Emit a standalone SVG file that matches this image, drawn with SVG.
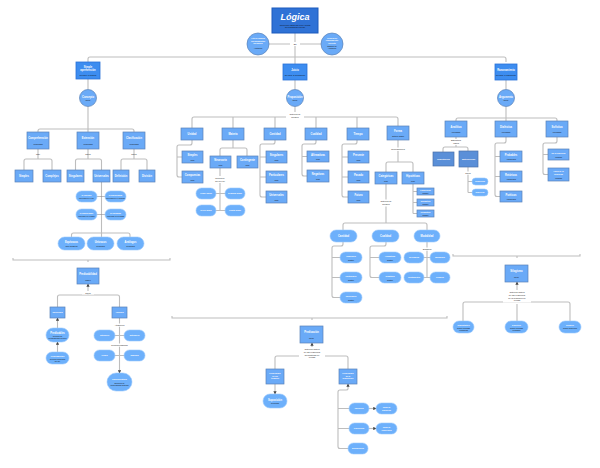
<svg xmlns="http://www.w3.org/2000/svg" width="600" height="468" viewBox="0 0 600 468">
<defs>
<marker id="ar" viewBox="0 0 6 6" refX="5" refY="3" markerWidth="3" markerHeight="3" orient="auto-start-reverse"><path d="M0 0 L6 3 L0 6 z" fill="#444"/></marker>
<style>
.b0{fill:#2f72d6;stroke:#1d5bbd;stroke-width:1}
.b1{fill:#3d8df0;stroke:#2a72d8;stroke-width:.8}
.b2{fill:#6aaaf7;stroke:#5a82b8;stroke-width:.7}
.b3{fill:#5a8fd8;stroke:#4a6fa8;stroke-width:.7}
.ci{fill:#6aaaf7;stroke:#5a82b8;stroke-width:.7}
.p{fill:#6db0fb;stroke:#9ccafc;stroke-width:.6}
.c{fill:none;stroke:#bdbdbd;stroke-width:1.1}
.k{fill:none;stroke:#bdbdbd;stroke-width:1.1}
text{font-family:"Liberation Sans",Arial,sans-serif;text-anchor:middle}
.t{font-size:2.6px;font-weight:bold;fill:#fff}
.s{font-size:2px;fill:#111}
.l{font-size:2.2px;fill:#222}
.x{font-size:1.8px;fill:#111}
.tt{font-size:1.9px;font-weight:bold;fill:#fff}
.lb{fill:#fff}
</style>
</defs>

<g id="connectors">
<path class="c" d="M295 33 V64"/>
<path class="c" d="M269 44 H321"/>
<path class="c" d="M88 62 V59 Q88 57 90 57 H504 Q506 57 506 59 V62"/>
<!-- left branch -->
<path class="c" d="M88 79 V89.5 M88 106.5 V129"/>
<path class="c" d="M38 132 V131 Q38 129 40 129 H132 Q134 129 134 131 V132 M88 129 V132"/>
<path class="c" d="M38 149 V159 M24 170 V161 Q24 159 26 159 H50 Q52 159 52 161 V170"/>
<path class="c" d="M88 149 V159 M75.5 170 V161 Q75.5 159 77.5 159 H99.5 Q101.5 159 101.5 161 V170"/>
<path class="c" d="M134 149 V159 M121 170 V161 Q121 159 123 159 H145 Q147 159 147 161 V170"/>
<path class="c" d="M101.5 182 V237 M71.5 237 V235 Q71.5 233 73.5 233 H128 Q130 233 130 235 V237"/>
<path class="c" d="M97 196.5 H105 M97 214.5 H105"/>
<path class="k" d="M13 258 V260 H170 V258 M88 260 V262"/>
<path class="c" d="M88 295 V284" marker-end="url(#ar)"/>
<path class="c" d="M57.5 307 V297 Q57.5 295 59.5 295 H117.5 Q119.5 295 119.5 297 V307"/>
<path class="c" d="M57.5 328 V318" marker-end="url(#ar)"/>
<path class="c" d="M57.5 352 V342" marker-end="url(#ar)"/>
<path class="c" d="M119.5 318 V373" marker-end="url(#ar)"/>
<path class="c" d="M115 335.5 H124 M115 355.5 H124"/>
<!-- middle branch -->
<path class="c" d="M295 80 V89.5 M295 106.5 V117"/>
<path class="c" d="M192 128 V119 Q192 117 194 117 H396 Q398 117 398 119 V126 M233 117 V128 M275 117 V128 M316 117 V128 M357 117 V128"/>
<path class="c" d="M192 140 V143 Q192 145 190 145 H179 Q177 145 177 147 V175 Q177 177 179 177 H182 M177 157 H182"/>
<path class="c" d="M233 140 V148 M220 156 V150 Q220 148 222 148 H245 Q247 148 247 150 V156"/>
<path class="c" d="M220 168 V210.5 M216 193.5 H225 M216 210.5 H225"/>
<path class="c" d="M275 140 V142 Q275 144 273 144 H262 Q260 144 260 146 V195 Q260 197 262 197 H266 M260 157 H266 M260 177 H266"/>
<path class="c" d="M316 140 V142 Q316 144 314 144 H304 Q302 144 302 146 V174 Q302 176 304 176 H307 M302 156.5 H307"/>
<path class="c" d="M357 140 V142 Q357 144 355 144 H344 Q342 144 342 146 V195 Q342 197 344 197 H348 M342 157 H348 M342 177 H348"/>
<path class="c" d="M398 140 V162 M386 172 V164 Q386 162 388 162 H411 Q413 162 413 164 V172"/>
<path class="c" d="M386 184 V223 M343 230 V225 Q343 223 345 223 H425 Q427 223 427 225 V230"/>
<path class="c" d="M413 184 V213.5 M413 191.5 H417 M413 202.5 H417 M413 213.5 H417"/>
<path class="c" d="M343 242 V244 Q343 246 341 246 H334 Q332 246 332 248 V295.5 Q332 297.5 334 297.5 H340 M332 257.5 H340 M332 277.5 H340"/>
<path class="c" d="M386 242 V244 Q386 246 384 246 H372 Q370 246 370 248 V275.5 Q370 277.5 372 277.5 H379 M370 257.5 H379"/>
<path class="c" d="M427 242 V277.5 M424 257.5 H430 M424 277.5 H430"/>
<!-- right branch -->
<path class="c" d="M506 80 V89.5 M506 106.5 V121"/>
<path class="c" d="M456 121 V120 Q456 118 458 118 H555 Q557 118 557 120 V121"/>
<path class="c" d="M456 137 V147 M443 152 V149 Q443 147 445 147 H466 Q468 147 468 149 V151"/>
<path class="c" d="M468 167 V192.5 M468 181.5 H472 M468 192.5 H472"/>
<path class="c" d="M506 137 V141 Q506 143 504 143 H497 Q495 143 495 145 V194.5 Q495 196.5 497 196.5 H500 M495 156.5 H500 M495 176.5 H500"/>
<path class="c" d="M557 137 V141 Q557 143 555 143 H545 Q543 143 543 145 V172.5 Q543 174.5 545 174.5 H548 M543 154.5 H548"/>
<path class="k" d="M453 254 V256 H580 V254 M517 256 V258"/>
<path class="c" d="M517 290 V282" marker-end="url(#ar)"/>
<path class="c" d="M463 321 V304 Q463 302 465 302 H568 Q570 302 570 304 V321 M517 304 V321"/>
<!-- bottom middle -->
<path class="k" d="M172 316 V318 H447 V316 M312 318 V320"/>
<path class="c" d="M312 347 V343" marker-end="url(#ar)"/>
<path class="c" d="M275 369 V358 Q275 356 277 356 H346 Q348 356 348 358 V369"/>
<path class="c" d="M275 384 V394" marker-end="url(#ar)"/>
<path class="c" d="M348 389 V384" marker-end="url(#ar)"/>
<path class="c" d="M348 389 Q348 390 346 390 H340 Q338 390 338 392 V446.5 Q338 448.5 340 448.5 H348 M338 408.5 H349 M338 428.5 H349"/>
<path class="c" d="M369 408.5 H376" marker-end="url(#ar)"/>
<path class="c" d="M369 428.5 H376" marker-end="url(#ar)"/>
</g>

<!-- labels on connectors -->
<g id="labels">
<rect class="lb" x="290" y="42" width="10" height="4"/><text class="l" x="295" y="45">Es</text>
<text class="l" x="38" y="155">Tipo</text><text class="l" x="88" y="155">Tipos</text><text class="l" x="134" y="155">Tipos</text>
<text class="x" x="101.5" y="197">y</text><text class="x" x="101.5" y="215">y</text>
<rect class="lb" x="82" y="291" width="12" height="3.5"/><text class="l" x="88" y="293.8">Tipos</text>
<rect class="lb" x="111" y="323.5" width="17" height="3.2"/><text class="l" x="119.5" y="326">Atribución</text>
<rect class="lb" x="108" y="343.5" width="23" height="3.2"/><text class="l" x="119.5" y="346">Proporcionalidad</text>
<rect class="lb" x="286" y="112" width="18" height="7"/><text class="l" x="295" y="114.5">Criterios de</text><text class="l" x="295" y="117.6">división</text>
<rect class="lb" x="211" y="176" width="18" height="7"/><text class="l" x="220" y="178.5">Modos de</text><text class="l" x="220" y="181.5">ser per se</text>
<rect class="lb" x="388" y="147.5" width="20" height="3.4"/><text class="l" x="398" y="150">Proposiciones</text>
<rect class="lb" x="377" y="199.5" width="18" height="7"/><text class="l" x="386" y="202">Criterios de</text><text class="l" x="386" y="205">división</text>
<rect class="lb" x="420" y="247.5" width="14" height="3.2"/><text class="l" x="427" y="250">Subtipos</text>
<rect class="lb" x="447" y="139" width="18" height="6"/><text class="l" x="456" y="141.3">Estructura</text><text class="l" x="456" y="144">lógica</text>
<rect class="lb" x="462" y="171.5" width="12" height="3.2"/><text class="l" x="468" y="174">Tipos</text>
<rect class="lb" x="503" y="290.5" width="28" height="12"/><text class="l" x="517" y="293">Criterios límites</text><text class="l" x="517" y="295.8">de las relaciones</text><text class="l" x="517" y="298.6">de la definición de</text><text class="l" x="517" y="301.4">verdad</text>
<rect class="lb" x="299" y="347.5" width="26" height="12"/><text class="l" x="312" y="350">Criterios límites</text><text class="l" x="312" y="352.8">de las relaciones</text><text class="l" x="312" y="355.6">predicativas de</text><text class="l" x="312" y="358.4">verdad</text>
</g>

<g id="n-logica"><rect class="b0" x="272" y="8" width="46" height="25"/><text x="295" y="20" style="font-size:9px;font-weight:bold;font-style:italic;fill:#fff">Lógica</text><text class="x" x="295" y="25.5">Ciencia que estudia las leyes y formas</text><text class="x" x="295" y="28.3">del pensamiento correcto</text></g>
<g id="n-arte"><circle class="ci" cx="258" cy="44" r="11"/><text class="tt" x="258" y="39">Arte de razonar</text><text class="tt" x="258" y="41.6">los argumentos</text><text class="tt" x="258" y="44.2">racionales</text><text class="x" x="258" y="49">Aristóteles</text></g>
<g id="n-ciencia"><circle class="ci" cx="332" cy="44" r="11"/><text class="tt" x="332" y="38.5">Ciencia del</text><text class="tt" x="332" y="41">razonamiento</text><text class="tt" x="332" y="43.5">correcto</text><text class="x" x="332" y="47">Órganon de</text><text class="x" x="332" y="49.3">Aristóteles</text></g>

<g id="n-aprehension"><rect class="b1" x="76" y="62" width="24" height="17"/><text class="t" x="88" y="68">Simple</text><text class="t" x="88" y="71">aprehensión</text><text class="s" x="88" y="76">Su obra: el término</text></g>
<g id="n-concepto"><circle class="ci" cx="88" cy="98" r="8.5"/><text class="t" x="88" y="97.5">Concepto</text><text class="s" x="88" y="101">Tiene</text></g>
<g id="n-comprehension"><rect class="b2" x="27" y="132" width="22" height="17"/><text class="t" x="38" y="139">Comprehensión</text><text class="s" x="38" y="144.5">Propiedad</text></g>
<g id="n-extension"><rect class="b2" x="77" y="132" width="22" height="17"/><text class="t" x="88" y="139">Extensión</text><text class="s" x="88" y="144.5">Propiedad</text></g>
<g id="n-clasificacion"><rect class="b2" x="123" y="132" width="22" height="17"/><text class="t" x="134" y="139">Clasificación</text><text class="s" x="134" y="144.5">Propiedad</text></g>
<g id="n-simples"><rect class="b2" x="15" y="170" width="18" height="12"/><text class="t" x="24" y="177">Simples</text></g>
<g id="n-complejos"><rect class="b2" x="43" y="170" width="18" height="12"/><text class="t" x="52" y="177">Complejos</text></g>
<g id="n-singulares"><rect class="b2" x="67" y="170" width="17" height="12"/><text class="t" x="75.5" y="177">Singulares</text></g>
<g id="n-universales"><rect class="b2" x="93" y="170" width="17" height="12"/><text class="t" x="101.5" y="177">Universales</text></g>
<g id="n-definicion"><rect class="b2" x="113" y="170" width="16" height="12"/><text class="t" x="121" y="177">Definición</text></g>
<g id="n-division"><rect class="b2" x="139" y="170" width="16" height="12"/><text class="t" x="147" y="177">División</text></g>
<g id="n-essendo"><rect class="p" x="76" y="191" width="21" height="11" rx="5.5"/><text class="tt" x="86.5" y="195.5">In essendo</text><text class="x" x="86.5" y="199.3">Universal en el ser</text></g>
<g id="n-praedicando"><rect class="p" x="105" y="191" width="21" height="11" rx="5.5"/><text class="tt" x="115.5" y="195.5">In praedicando</text><text class="x" x="115.5" y="199.3">Universal en el predicar</text></g>
<g id="n-significando"><rect class="p" x="76" y="209" width="21" height="11" rx="5.5"/><text class="tt" x="86.5" y="213.5">In significando</text><text class="x" x="86.5" y="217.3">Universal en el signo</text></g>
<g id="n-causando"><rect class="p" x="105" y="209" width="21" height="11" rx="5.5"/><text class="tt" x="115.5" y="213.5">In causando</text><text class="x" x="115.5" y="217.3">Universal en la causa</text></g>
<g id="n-equivocos"><rect class="p" x="58" y="237" width="27" height="13" rx="6.5"/><text class="t" x="71.5" y="243">Equívocos</text><text class="s" x="71.5" y="247">Con nombres</text></g>
<g id="n-univocos"><rect class="p" x="87" y="237" width="27" height="13" rx="6.5"/><text class="t" x="100.5" y="243">Unívocos</text><text class="s" x="100.5" y="247">Términos</text></g>
<g id="n-analogos"><rect class="p" x="117" y="237" width="27" height="13" rx="6.5"/><text class="t" x="130.5" y="243">Análogos</text><text class="s" x="130.5" y="247">Términos</text></g>
<g id="n-predicabilidad"><rect class="b2" x="77" y="268" width="22" height="16"/><text class="t" x="88" y="275">Predicabilidad</text><text class="s" x="88" y="280.5">Posee</text></g>
<g id="n-univocidad"><rect class="b2" x="50" y="307" width="15" height="11"/><text class="tt" x="57.5" y="313.3">Univocidad</text></g>
<g id="n-analogia"><rect class="b2" x="112" y="307" width="15" height="11"/><text class="tt" x="119.5" y="313.3">Analogía</text></g>
<g id="n-predicables"><rect class="p" x="46" y="328" width="23" height="14" rx="7"/><text class="t" x="57.5" y="333.5">Predicables</text><text class="x" x="57.5" y="337">Géneros de</text><text class="x" x="57.5" y="339.3">predicabilidad unívoca</text></g>
<g id="n-predicamentos"><rect class="p" x="46" y="352" width="23" height="12" rx="6"/><text class="tt" x="57.5" y="356.5">Predicamentos</text><text class="x" x="57.5" y="359.5">Géneros supremos</text><text class="x" x="57.5" y="361.8">del ser</text></g>
<g id="n-intrinseca"><rect class="p" x="94" y="330" width="21" height="11" rx="5.5"/><text class="tt" x="104.5" y="336.2">Intrínseca</text></g>
<g id="n-extrinseca"><rect class="p" x="124" y="330" width="21" height="11" rx="5.5"/><text class="tt" x="134.5" y="336.2">Extrínseca</text></g>
<g id="n-propia"><rect class="p" x="94" y="350" width="21" height="11" rx="5.5"/><text class="tt" x="104.5" y="356.2">Propia</text></g>
<g id="n-impropia"><rect class="p" x="124" y="350" width="21" height="11" rx="5.5"/><text class="tt" x="134.5" y="356.2">Impropia</text></g>
<g id="n-trascendentales"><rect class="p" x="107" y="373" width="25" height="18" rx="9"/><text class="tt" x="119.5" y="380">Trascendentales</text><text class="x" x="119.5" y="383.5">Nociones de</text><text class="x" x="119.5" y="385.8">predicabilidad análoga</text></g>

<g id="n-juicio"><rect class="b1" x="283" y="64" width="24" height="16"/><text class="t" x="295" y="70.5">Juicio</text><text class="s" x="295" y="75.5">Su obra: la proposición</text></g>
<g id="n-proposicion"><circle class="ci" cx="295" cy="98" r="8.5"/><text class="t" x="295" y="97.5">Proposición</text><text class="s" x="295" y="101">Tiene</text></g>
<g id="n-unidad"><rect class="b2" x="181" y="128" width="22" height="12"/><text class="t" x="192" y="135">Unidad</text></g>
<g id="n-materia"><rect class="b2" x="222" y="128" width="22" height="12"/><text class="t" x="233" y="135">Materia</text></g>
<g id="n-cantidad"><rect class="b2" x="264" y="128" width="22" height="12"/><text class="t" x="275" y="135">Cantidad</text></g>
<g id="n-cualidad"><rect class="b2" x="305" y="128" width="22" height="12"/><text class="t" x="316" y="135">Cualidad</text></g>
<g id="n-tiempo"><rect class="b2" x="347" y="128" width="22" height="12"/><text class="t" x="358" y="135">Tiempo</text></g>
<g id="n-forma"><rect class="b2" x="387" y="126" width="22" height="14" /><text class="t" x="398" y="131.5">Forma</text><text class="s" x="398" y="136.5">Criterio lógico</text></g>
<g id="n-j-simples"><rect class="b2" x="182" y="151" width="21" height="12"/><text class="t" x="192.5" y="156">Simples</text><text class="s" x="192.5" y="160.5">Tipo</text></g>
<g id="n-j-compuestas"><rect class="b2" x="182" y="171" width="21" height="12"/><text class="t" x="192.5" y="176">Compuestas</text><text class="s" x="192.5" y="180.5">Tipo</text></g>
<g id="n-necesaria"><rect class="b2" x="210" y="156" width="21" height="12"/><text class="t" x="220.5" y="161">Necesaria</text><text class="s" x="220.5" y="165.5">Tipo</text></g>
<g id="n-contingente"><rect class="b2" x="237" y="156" width="21" height="12"/><text class="t" x="247.5" y="161">Contingente</text><text class="s" x="247.5" y="165.5">Tipo</text></g>
<g id="n-modo1"><rect class="p" x="196" y="188" width="20" height="11" rx="5.5"/><text class="tt" x="206" y="194.2">Primer modo</text></g>
<g id="n-modo2"><rect class="p" x="225" y="188" width="20" height="11" rx="5.5"/><text class="tt" x="235" y="194.2">Segundo modo</text></g>
<g id="n-modo3"><rect class="p" x="196" y="205" width="20" height="11" rx="5.5"/><text class="tt" x="206" y="211.2">Tercer modo</text></g>
<g id="n-modo4"><rect class="p" x="225" y="205" width="20" height="11" rx="5.5"/><text class="tt" x="235" y="211.2">Cuarto modo</text></g>
<g id="n-j-singulares"><rect class="b2" x="266" y="151" width="21" height="12"/><text class="t" x="276.5" y="156">Singulares</text><text class="s" x="276.5" y="160.5">Tipo</text></g>
<g id="n-j-particulares"><rect class="b2" x="266" y="171" width="21" height="12"/><text class="t" x="276.5" y="176">Particulares</text><text class="s" x="276.5" y="180.5">Tipo</text></g>
<g id="n-j-universales"><rect class="b2" x="266" y="191" width="21" height="12"/><text class="t" x="276.5" y="196">Universales</text><text class="s" x="276.5" y="200.5">Tipo</text></g>
<g id="n-j-afirmativas"><rect class="b2" x="307" y="151" width="22" height="11"/><text class="t" x="318" y="155.8">Afirmativas</text><text class="s" x="318" y="160">Tipo</text></g>
<g id="n-j-negativas"><rect class="b2" x="307" y="170" width="22" height="12"/><text class="t" x="318" y="175">Negativas</text><text class="s" x="318" y="179.5">Tipo</text></g>
<g id="n-presente"><rect class="b2" x="348" y="151" width="21" height="12"/><text class="t" x="358.5" y="156">Presente</text><text class="s" x="358.5" y="160.5">Tipo</text></g>
<g id="n-pasado"><rect class="b2" x="348" y="171" width="21" height="12"/><text class="t" x="358.5" y="176">Pasado</text><text class="s" x="358.5" y="180.5">Tipo</text></g>
<g id="n-futuro"><rect class="b2" x="348" y="191" width="21" height="12"/><text class="t" x="358.5" y="196">Futuro</text><text class="s" x="358.5" y="200.5">Tipo</text></g>
<g id="n-categoricas"><rect class="b2" x="375" y="172" width="22" height="12"/><text class="t" x="386" y="177">Categóricas</text><text class="s" x="386" y="181.5">Tipo</text></g>
<g id="n-hipoteticas"><rect class="b2" x="402" y="172" width="22" height="12"/><text class="t" x="413" y="177">Hipotéticas</text><text class="s" x="413" y="181.5">Tipo</text></g>
<g id="n-condicional"><rect class="b2" x="417" y="188" width="17" height="7"/><text class="tt" x="425.5" y="191.3">Condicional</text><text class="x" x="425.5" y="194">Subtipo</text></g>
<g id="n-disyuntiva"><rect class="b2" x="417" y="199" width="17" height="7"/><text class="tt" x="425.5" y="202.3">Disyuntiva</text><text class="x" x="425.5" y="205">Subtipo</text></g>
<g id="n-conjuntiva"><rect class="b2" x="417" y="210" width="17" height="7"/><text class="tt" x="425.5" y="213.3">Conjuntiva</text><text class="x" x="425.5" y="216">Subtipo</text></g>
<g id="n-p-cantidad"><rect class="p" x="330" y="230" width="27" height="12" rx="6"/><text class="t" x="343.5" y="236.9">Cantidad</text></g>
<g id="n-p-cualidad"><rect class="p" x="372" y="230" width="27" height="12" rx="6"/><text class="t" x="385.5" y="236.9">Cualidad</text></g>
<g id="n-p-modalidad"><rect class="p" x="414" y="230" width="26" height="12" rx="6"/><text class="t" x="427" y="236.9">Modalidad</text></g>
<g id="n-p-singulares"><rect class="p" x="340" y="252" width="22" height="11" rx="5.5"/><text class="tt" x="351" y="256.8">Singulares</text><text class="x" x="351" y="260.5">Subtipo</text></g>
<g id="n-p-particulares"><rect class="p" x="340" y="272" width="22" height="11" rx="5.5"/><text class="tt" x="351" y="276.8">Particulares</text><text class="x" x="351" y="280.5">Subtipo</text></g>
<g id="n-p-universales"><rect class="p" x="340" y="292" width="22" height="11" rx="5.5"/><text class="tt" x="351" y="296.8">Universales</text><text class="x" x="351" y="300.5">Subtipo</text></g>
<g id="n-p-afirmativas"><rect class="p" x="379" y="252" width="22" height="11" rx="5.5"/><text class="tt" x="390" y="256.8">Afirmativas</text><text class="x" x="390" y="260.5">Subtipo</text></g>
<g id="n-p-negativas"><rect class="p" x="379" y="272" width="22" height="11" rx="5.5"/><text class="tt" x="390" y="276.8">Negativas</text><text class="x" x="390" y="280.5">Subtipo</text></g>
<g id="n-necesarias"><rect class="p" x="404" y="252" width="20" height="11" rx="5.5"/><text class="tt" x="414" y="258.2">Necesarias</text></g>
<g id="n-imposibles"><rect class="p" x="430" y="252" width="20" height="11" rx="5.5"/><text class="tt" x="440" y="258.2">Imposibles</text></g>
<g id="n-contingentes"><rect class="p" x="404" y="272" width="20" height="11" rx="5.5"/><text class="tt" x="414" y="278.2">Contingentes</text></g>
<g id="n-posibles"><rect class="p" x="430" y="272" width="20" height="11" rx="5.5"/><text class="tt" x="440" y="278.2">Posibles</text></g>

<g id="n-razonamiento"><rect class="b1" x="495" y="64" width="22" height="16"/><text class="t" x="506" y="70.5">Razonamiento</text><text class="s" x="506" y="75.5">Su obra: el argumento</text></g>
<g id="n-argumento"><circle class="ci" cx="506" cy="98" r="8.5"/><text class="t" x="506" y="97.5">Argumento</text><text class="s" x="506" y="101">Tiene</text></g>
<g id="n-analitica"><rect class="b2" x="445" y="121" width="22" height="16"/><text class="t" x="456" y="127.5">Analítica</text><text class="s" x="456" y="133">Premisas</text></g>
<g id="n-dialectica"><rect class="b2" x="495" y="121" width="22" height="16"/><text class="t" x="506" y="127.5">Dialéctica</text><text class="s" x="506" y="133">Premisas</text></g>
<g id="n-sofistica"><rect class="b2" x="546" y="121" width="22" height="16"/><text class="t" x="557" y="127.5">Sofística</text><text class="s" x="557" y="133">Premisas</text></g>
<g id="n-demostracion"><rect class="b3" x="433" y="152" width="21" height="14"/><text class="tt" x="443.5" y="159.7">Demostración</text></g>
<g id="n-materiaforma"><rect class="b3" x="459" y="151" width="19" height="16"/><text class="tt" x="468.5" y="159.7">Materia/Forma</text></g>
<g id="n-deduccion"><rect class="p" x="472" y="178" width="16" height="7" rx="3.5"/><text class="tt" x="480" y="182.2">Deducción</text></g>
<g id="n-induccion"><rect class="p" x="472" y="189" width="16" height="7" rx="3.5"/><text class="tt" x="480" y="193.2">Inducción</text></g>
<g id="n-probables"><rect class="b2" x="500" y="151" width="22" height="11"/><text class="t" x="511" y="155.8">Probables</text><text class="x" x="511" y="160">Argumentos</text></g>
<g id="n-retoricos"><rect class="b2" x="500" y="171" width="22" height="11"/><text class="t" x="511" y="175.8">Retóricos</text><text class="x" x="511" y="180">Argumentos</text></g>
<g id="n-poeticos"><rect class="b2" x="500" y="191" width="22" height="11"/><text class="t" x="511" y="195.8">Poéticos</text><text class="x" x="511" y="200">Argumentos</text></g>
<g id="n-expresion"><rect class="b2" x="548" y="149" width="21" height="11"/><text class="tt" x="558.5" y="153.8">En la expresión</text><text class="x" x="558.5" y="158">Falacias</text></g>
<g id="n-fuera"><rect class="b2" x="548" y="168" width="21" height="13"/><text class="tt" x="558.5" y="172.3">Fuera de la</text><text class="tt" x="558.5" y="174.8">expresión</text><text class="x" x="558.5" y="179">Falacias</text></g>
<g id="n-silogismo"><rect class="b2" x="505" y="265" width="23" height="17"/><text class="t" x="516.5" y="272">Silogismo</text><text class="s" x="516.5" y="277.5">Tiene</text></g>
<g id="n-demostrativo"><rect class="p" x="453" y="321" width="21" height="12" rx="6"/><text class="tt" x="463.5" y="325.5">Demostrativo</text><text class="x" x="463.5" y="328.5">Según premisas</text><text class="x" x="463.5" y="330.8">verdaderas</text></g>
<g id="n-dialectico"><rect class="p" x="505" y="321" width="23" height="12" rx="6"/><text class="tt" x="516.5" y="325.5">Dialéctico</text><text class="x" x="516.5" y="328.5">Según premisas</text><text class="x" x="516.5" y="330.8">probables</text></g>
<g id="n-sofistico"><rect class="p" x="559" y="321" width="22" height="12" rx="6"/><text class="tt" x="570" y="325.5">Sofístico</text><text class="x" x="570" y="329">Según apariencia</text></g>

<g id="n-predicacion"><rect class="b2" x="300" y="326" width="23" height="17"/><text class="t" x="311.5" y="333">Predicación</text><text class="s" x="311.5" y="338.5">Tiene</text></g>
<g id="n-prop-terminos"><rect class="b2" x="266" y="369" width="18" height="15"/><text class="tt" x="275" y="374">Propiedades</text><text class="tt" x="275" y="376.6">de los</text><text class="tt" x="275" y="379.2">términos</text></g>
<g id="n-prop-proposicion"><rect class="b2" x="339" y="369" width="18" height="15"/><text class="tt" x="348" y="374">Propiedades</text><text class="tt" x="348" y="376.6">de la</text><text class="tt" x="348" y="379.2">proposición</text></g>
<g id="n-suposicion"><rect class="p" x="263" y="394" width="24" height="14" rx="7"/><text class="t" x="275" y="400.5">Suposición</text><text class="x" x="275" y="404">Propiedad</text></g>
<g id="n-oposicion"><rect class="p" x="349" y="403" width="20" height="11" rx="5.5"/><text class="tt" x="359" y="409.2">Oposición</text></g>
<g id="n-tipos-oposicion"><rect class="p" x="376" y="403" width="21" height="11" rx="5.5"/><text class="tt" x="386.5" y="408">Tipos de</text><text class="tt" x="386.5" y="410.6">oposición</text></g>
<g id="n-conversion"><rect class="p" x="349" y="423" width="20" height="11" rx="5.5"/><text class="tt" x="359" y="429.2">Conversión</text></g>
<g id="n-tipos-conversion"><rect class="p" x="376" y="423" width="21" height="11" rx="5.5"/><text class="tt" x="386.5" y="428">Tipos de</text><text class="tt" x="386.5" y="430.6">conversión</text></g>
<g id="n-equipolencia"><rect class="p" x="348" y="443" width="20" height="11" rx="5.5"/><text class="tt" x="358" y="449.2">Equipolencia</text></g>
</svg>
